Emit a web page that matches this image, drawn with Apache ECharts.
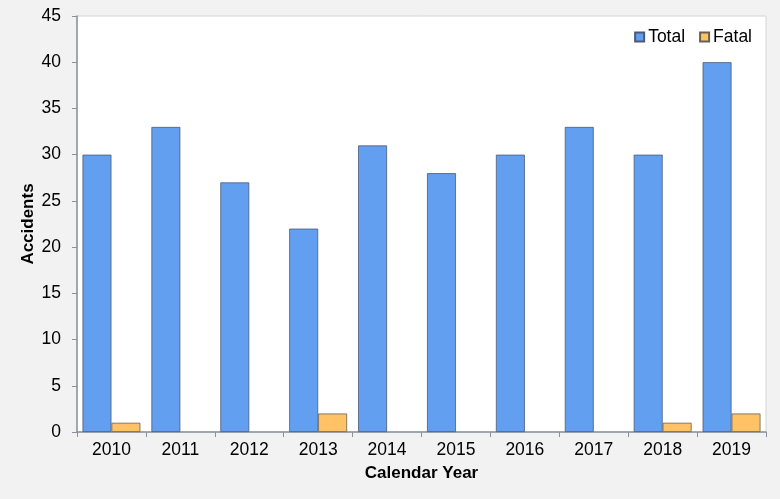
<!DOCTYPE html>
<html><head><meta charset="utf-8">
<script src="https://cdn.jsdelivr.net/npm/echarts@6/dist/echarts.min.js"></script>
<style>html,body{margin:0;padding:0;background:#f2f2f2}#c{width:780px;height:499px}</style>
</head><body><div id="c"></div>
<script>
const years = ['2010','2011','2012','2013','2014','2015','2016','2017','2018','2019'];
const totalAccidents = [30,33,27,22,31,28,30,33,30,40];
const fatalAccidents = [1,0,0,2,0,0,0,0,1,2];
const yTicks = [0,5,10,15,20,25,30,35,40,45];

const chart = echarts.init(document.getElementById('c'), null, {renderer:'canvas'});
const font = 'Liberation Sans, Arial, sans-serif';
const hideZero = arr => arr.map(v => v === 0 ? {value:0, itemStyle:{borderWidth:0}} : v);
chart.setOption({
  backgroundColor:'#f2f2f2',
  animation:false,
  grid:{left:77,right:14,top:16,bottom:67,show:true,backgroundColor:'#ffffff',borderColor:'#d4d4d4',borderWidth:1},
  legend:{right:23,top:23,itemWidth:9,itemHeight:9,itemGap:14,icon:'rect',
    textStyle:{fontFamily:font,fontSize:17.5,color:'#000',padding:[0,0,0,-1]},
    data:['Total','Fatal']},
  xAxis:{type:'category',data:years,name:'Calendar Year',nameLocation:'middle',nameGap:33,nameMoveOverlap:false,
    nameTextStyle:{fontFamily:font,fontSize:17,fontWeight:'bold',color:'#000'},
    axisLine:{lineStyle:{color:'#8a919c',width:1.5}},
    axisTick:{show:true,length:5,lineStyle:{color:'#8a919c'}},
    axisLabel:{fontFamily:font,fontSize:17.5,color:'#000',margin:9}},
  yAxis:{type:'value',min:0,max:45,interval:5,name:'Accidents',nameLocation:'middle',nameGap:40,nameMoveOverlap:false,
    nameTextStyle:{fontFamily:font,fontSize:17,fontWeight:'bold',color:'#000'},
    axisLine:{show:true,lineStyle:{color:'#8a919c',width:1.5}},
    axisTick:{show:true,length:5,lineStyle:{color:'#8a919c'}},
    splitLine:{show:false},
    axisLabel:{fontFamily:font,fontSize:17.5,color:'#000',margin:16,
      formatter:v=>yTicks.includes(v)?String(v):''}},
  series:[
    {name:'Total',type:'bar',data:hideZero(totalAccidents),barGap:'0%',barCategoryGap:'16%',
      itemStyle:{color:'#639ff0',borderColor:'#4a5a78',borderWidth:0.8}},
    {name:'Fatal',type:'bar',data:hideZero(fatalAccidents),
      itemStyle:{color:'#ffc366',borderColor:'#6a6050',borderWidth:0.8}}
  ]
});
</script></body></html>
